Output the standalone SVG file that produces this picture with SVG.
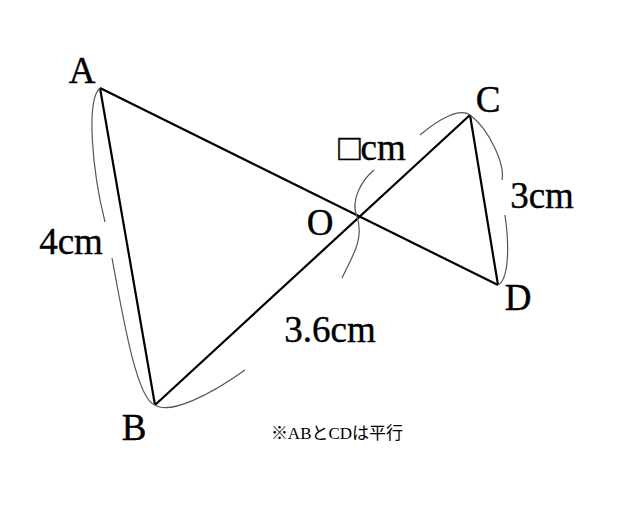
<svg xmlns="http://www.w3.org/2000/svg" width="632" height="512" viewBox="0 0 632 512">
<style>
.l{stroke:#000;stroke-width:2.2;fill:none}
.a{stroke:#555;stroke-width:1.2;fill:none}
.t{font-family:"Liberation Serif","Noto Sans CJK JP",serif;font-size:37px;fill:#000;text-anchor:middle;stroke:#000;stroke-width:0.4}
.s{font-family:"Liberation Serif","Noto Sans CJK JP",serif;font-size:17px;fill:#000;text-anchor:middle}
</style>
<rect width="632" height="512" fill="#fff"/>
<g id="connectors">
<path class="l" d="M100,88 L498,285"/>
<path class="l" d="M100,88 L155,405"/>
<path class="l" d="M155,405 L470,115"/>
<path class="l" d="M470,115 L498,285"/>
<path class="a" d="M100,88 C86,100 92,170 105,222"/>
<path class="a" d="M112,258 C125,330 138,400 155,405"/>
<path class="a" d="M470,115 C490,130 505,165 502,180"/>
<path class="a" d="M505,215 C510,250 508,280 498,285"/>
<path class="a" d="M357,217 C350,200 362,180 374,170"/>
<path class="a" d="M420,135 C440,118 460,108 470,115"/>
<path class="a" d="M357,217 C365,240 350,260 342,278"/>
<path class="a" d="M245,370 C210,395 170,415 155,405"/>
</g>
<g id="A"><text class="t" x="82" y="83">A</text></g>
<g id="B"><text class="t" x="134" y="440">B</text></g>
<g id="C"><text class="t" x="488" y="112">C</text></g>
<g id="D"><text class="t" x="518" y="310">D</text></g>
<g id="O"><text class="t" x="320" y="235">O</text></g>
<g id="lab"><text class="t" x="71" y="254">4cm</text>
<text class="t" x="542" y="208">3cm</text>
<text class="t" x="372" y="160">□cm</text>
<text class="t" x="330" y="342">3.6cm</text>
<text class="s" x="337" y="439">※ABとCDは平行</text></g>
</svg>
